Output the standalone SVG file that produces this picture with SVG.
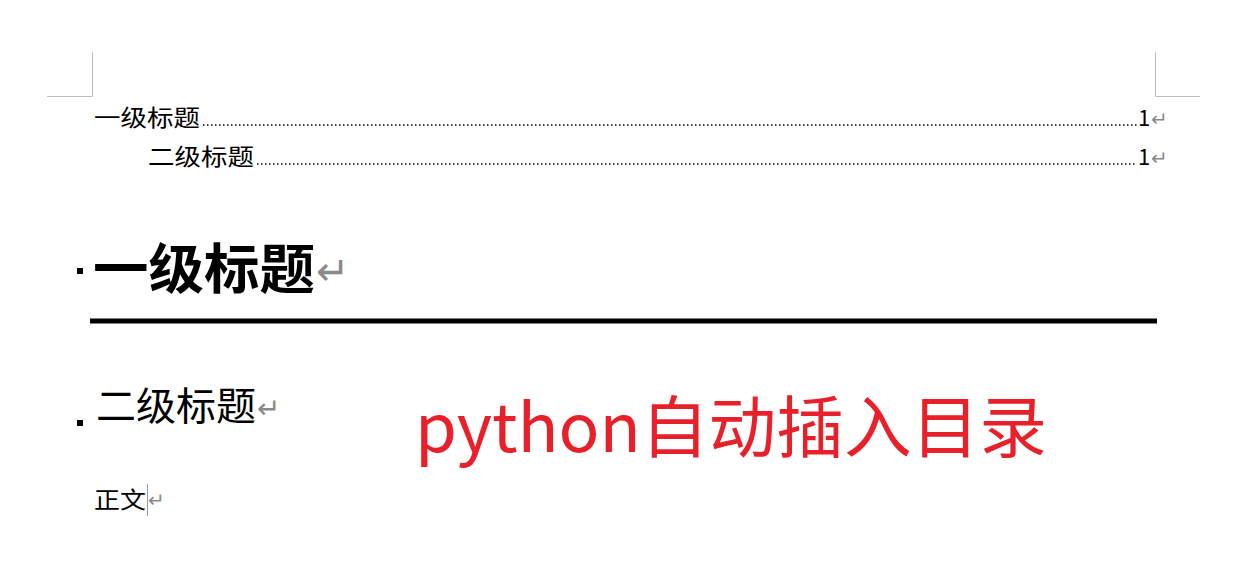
<svg xmlns="http://www.w3.org/2000/svg" width="1252" height="572" viewBox="0 0 1252 572">
<style>
text{font-family:"Noto Sans CJK SC","Liberation Sans",sans-serif;fill:#000}
.ret{fill:#8a8a8a}
.corner{stroke:#bfbfbf;stroke-width:1;fill:none}
.dots{stroke:#000;stroke-width:1.5;stroke-dasharray:1.5 2.5}
</style>
<rect width="1252" height="572" fill="#fff"/>
<path class="corner" d="M92.5 52V96.5H47M1155.5 52V96.5H1200"/>
<text x="94" y="126" font-size="23" textLength="106" lengthAdjust="spacingAndGlyphs">一级标题</text>
<line class="dots" x1="203" y1="125" x2="1137" y2="125"/>
<text x="1138" y="126" font-size="22">1</text>
<text class="ret" x="1151" y="126" font-size="20">↵</text>
<text x="148" y="165" font-size="23" textLength="106" lengthAdjust="spacingAndGlyphs">二级标题</text>
<line class="dots" x1="257" y1="164" x2="1137" y2="164"/>
<text x="1138" y="165" font-size="22">1</text>
<text class="ret" x="1151" y="165" font-size="20">↵</text>
<rect x="77" y="268" width="6" height="6"/>
<text x="93" y="289" font-size="54" font-weight="bold" textLength="222" lengthAdjust="spacingAndGlyphs">一级标题</text>
<text class="ret" x="316" y="285" font-size="40">↵</text>
<line x1="90" y1="321" x2="1157" y2="321" stroke="#000" stroke-width="5"/>
<rect x="77" y="420" width="6" height="6"/>
<text x="96" y="420" font-size="39" textLength="160" lengthAdjust="spacingAndGlyphs">二级标题</text>
<text class="ret" x="257" y="418" font-size="28">↵</text>
<text x="94" y="508" font-size="23" textLength="52" lengthAdjust="spacingAndGlyphs">正文</text>
<line x1="147.5" y1="484" x2="147.5" y2="516" stroke="#999"/>
<text class="ret" x="148" y="507" font-size="20">↵</text>
<text x="415" y="452" font-size="67" textLength="632" lengthAdjust="spacingAndGlyphs" style="fill:#e8202a">python自动插入目录</text>
</svg>
